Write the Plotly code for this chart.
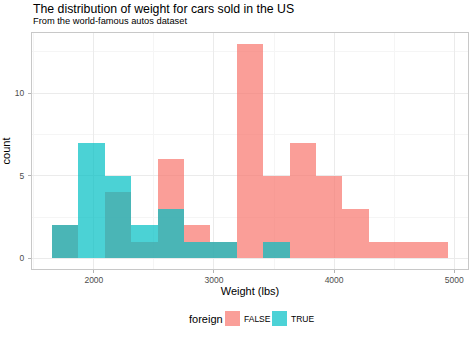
import plotly.graph_objects as go

# Data: histogram of car weight (lbs), 15 bins of width 220 starting at 1650
bin_edges = [1650, 1870, 2090, 2310, 2530, 2750, 2970, 3190, 3410,
             3630, 3850, 4070, 4290, 4510, 4730, 4950]
counts_false = [2, 0, 4, 1, 6, 2, 1, 13, 5, 7, 5, 3, 1, 1, 1]
counts_true = [2, 7, 5, 2, 3, 1, 1, 0, 1, 0, 0, 0, 0, 0, 0]
groups = ["FALSE", "TRUE"]
group_colors = ["#F8766D", "#00BFC4"]
x_ticks = [2000, 3000, 4000, 5000]
y_ticks = [0, 5, 10]

centers = [(a + b) / 2 for a, b in zip(bin_edges[:-1], bin_edges[1:])]
widths = [b - a for a, b in zip(bin_edges[:-1], bin_edges[1:])]

FONT = "Liberation Sans, Arial, sans-serif"
ALPHA = 0.7
W, H = 474, 338
L, R, T, B = 32, 6, 33, 69
PW, PH = W - L - R, H - T - B


def px(x):
    return (x - L) / PW


def py(y):
    return (H - B - y) / PH


fig = go.Figure()
for name, col, counts in zip(groups, group_colors, [counts_false, counts_true]):
    fig.add_trace(go.Bar(x=centers, y=counts, width=widths, name=name,
                         marker=dict(color=col, line=dict(width=0)),
                         opacity=ALPHA, showlegend=False))

# legend drawn in ggplot style (title + square keys)
shapes = []
annotations = [
    dict(text="The distribution of weight for cars sold in the US", xref="paper", yref="paper",
         x=px(32), y=py(9.5), xanchor="left", yanchor="middle", showarrow=False,
         borderpad=0, font=dict(size=12.3, color="#000", family=FONT)),
    dict(text="From the world-famous autos dataset", xref="paper", yref="paper",
         x=px(32), y=py(20.5), xanchor="left", yanchor="middle", showarrow=False,
         borderpad=0, font=dict(size=9.3, color="#000", family=FONT)),
    dict(text="foreign", xref="paper", yref="paper", x=px(188), y=py(319),
         xanchor="left", yanchor="middle", showarrow=False, borderpad=0,
         font=dict(size=11, color="#000", family=FONT)),
]
key_x = [225, 272]
text_x = [243, 289.5]
for name, col, kx, tx in zip(groups, group_colors, key_x, text_x):
    shapes.append(dict(type="rect", xref="paper", yref="paper",
                       x0=px(kx), x1=px(kx + 15), y0=py(326), y1=py(311),
                       fillcolor=col, opacity=ALPHA, line=dict(width=0)))
    annotations.append(dict(text=name, xref="paper", yref="paper", x=px(tx), y=py(319),
                            xanchor="left", yanchor="middle", showarrow=False, borderpad=0,
                            font=dict(size=8.5, color="#000", family=FONT)))

fig.update_layout(
    width=W, height=H,
    margin=dict(l=L, r=R, t=T, b=B, autoexpand=False),
    paper_bgcolor="white", plot_bgcolor="white",
    barmode="overlay", bargap=0,
    font=dict(family=FONT, color="#000000"),
    showlegend=False,
    xaxis=dict(range=[1485, 5115], tickvals=x_ticks, ticktext=[str(v) for v in x_ticks],
               showgrid=True, gridcolor="#EBEBEB", gridwidth=0.6,
               minor=dict(dtick=500, tick0=1500, showgrid=True, gridcolor="#F5F5F5", gridwidth=0.5),
               zeroline=False, showline=True, mirror=True, linecolor="#C8C8C8", linewidth=1,
               ticks="outside", ticklen=3, tickcolor="#B3B3B3", tickwidth=1,
               tickfont=dict(size=8.5, color="#4D4D4D"), automargin=False,
               title=dict(text="Weight (lbs)", font=dict(size=11, color="#000"), standoff=1)),
    yaxis=dict(range=[-0.65, 13.65], tickvals=y_ticks, ticktext=[str(v) for v in y_ticks],
               showgrid=True, gridcolor="#EBEBEB", gridwidth=0.6,
               minor=dict(dtick=2.5, tick0=0, showgrid=True, gridcolor="#F5F5F5", gridwidth=0.5),
               zeroline=False, showline=True, mirror=True, linecolor="#C8C8C8", linewidth=1,
               ticks="outside", ticklen=3, tickcolor="#B3B3B3", tickwidth=1,
               tickfont=dict(size=8.5, color="#4D4D4D"), automargin=False,
               ticklabelstandoff=2,
               title=dict(text="count", font=dict(size=11, color="#000"), standoff=3)),
    shapes=shapes,
    annotations=annotations,
)

fig.write_html("out.html")
